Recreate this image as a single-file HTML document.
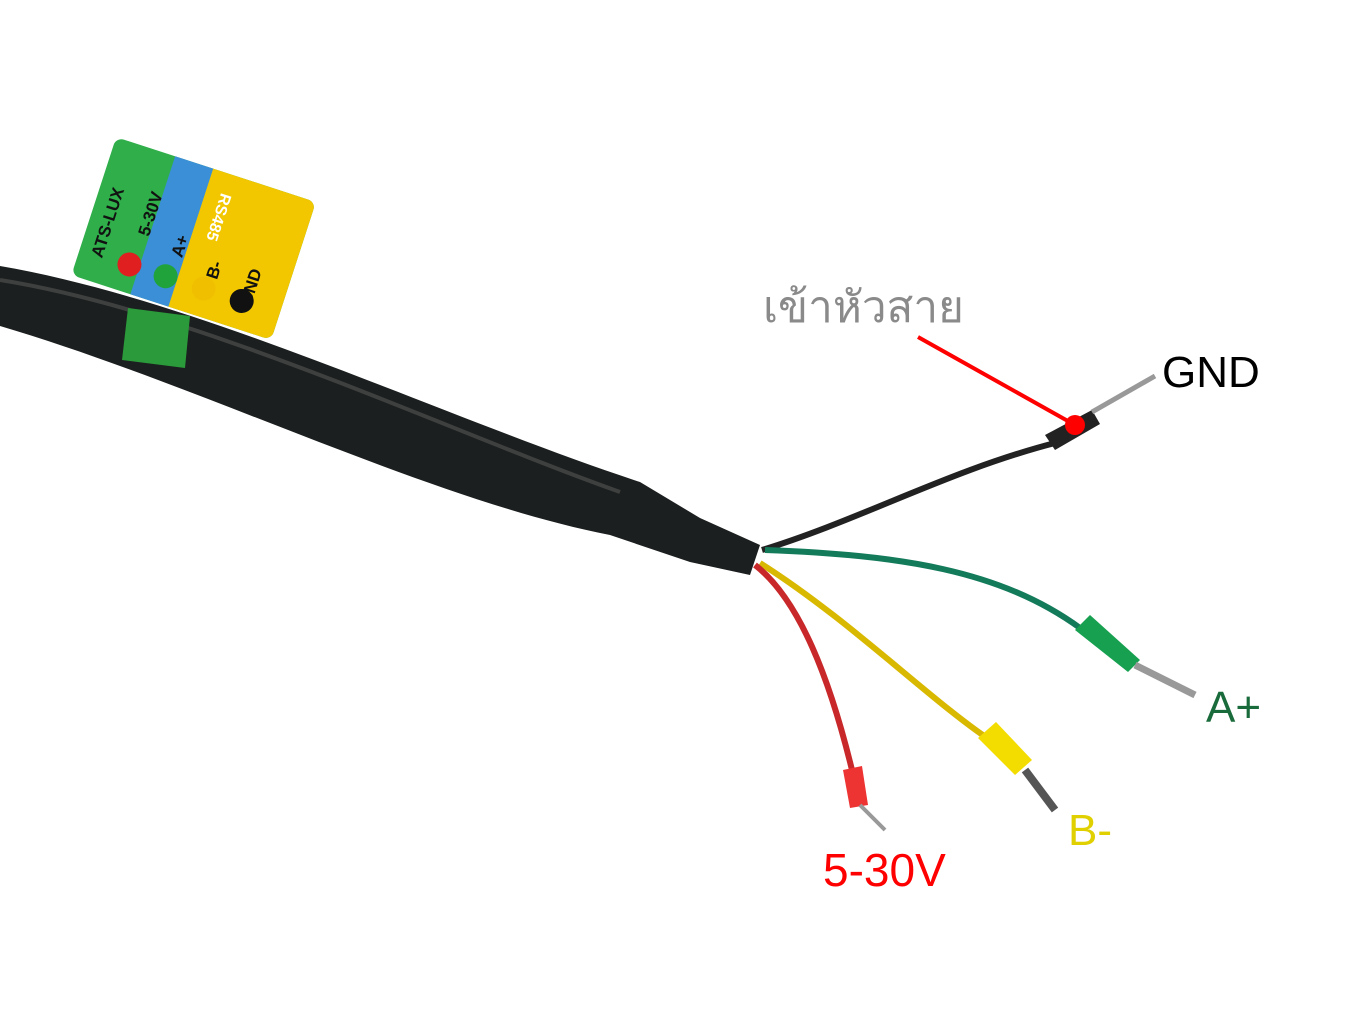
<!DOCTYPE html>
<html><head><meta charset="utf-8"><style>
html,body{margin:0;padding:0;background:#fff;}
svg{display:block}
text{font-family:"Liberation Sans","Noto Sans CJK SC",sans-serif;}
</style></head><body>
<svg width="1366" height="1025" viewBox="0 0 1366 1025" xmlns="http://www.w3.org/2000/svg">
<!-- tag -->
<g transform="rotate(18 190 240)">
 <rect x="88" y="165" width="210" height="145" rx="8" fill="#2fae4a"/>
 <rect x="180" y="165" width="118" height="145" rx="8" fill="#f2c700"/>
 <rect x="150" y="165" width="40" height="145" fill="#3b8fd6"/>
 <g font-weight="bold" font-size="17" fill="#111">
  <text transform="translate(112 285) rotate(-90)">ATS-LUX</text>
  <text transform="translate(150 250) rotate(-90)">5-30V</text>
  <text transform="translate(188 260) rotate(-90)">A+</text>
  <text transform="translate(228 270) rotate(-90)">B-</text>
  <text transform="translate(268 285) rotate(-90)">GND</text>
 </g>
 <text transform="translate(205 185) rotate(90)" font-size="16" fill="#fff" font-weight="bold">RS485</text>
 <circle cx="140" cy="282" r="12" fill="#e02020"/>
 <circle cx="178" cy="282" r="12" fill="#1fa33a"/>
 <circle cx="218" cy="282" r="12" fill="#f0c000"/>
 <circle cx="258" cy="282" r="12" fill="#111"/>
</g>
<!-- main cable -->
<path d="M0 266 C200 300 450 420 640 482 L700 518 L760 545 L750 575 L690 562 L610 535 C430 500 200 385 0 326 Z" fill="#1c1f1f"/>
<path d="M0 280 C200 312 450 432 620 492" stroke="#555" stroke-width="4" fill="none" opacity=".6"/>
<!-- cable tie -->
<path d="M128 308 L190 316 L185 368 L122 360 Z" fill="#2a9a3a"/>
<!-- wires -->
<path d="M762 550 C860 520 950 470 1055 443" stroke="#222" stroke-width="6" fill="none"/>
<path d="M1045 435 L1092 410 L1100 424 L1055 450 Z" fill="#222"/>
<path d="M1092 412 L1155 376" stroke="#999" stroke-width="5"/>
<path d="M765 550 C900 555 1000 570 1080 628" stroke="#137a5a" stroke-width="6" fill="none"/>
<path d="M1075 630 L1090 615 L1140 660 L1128 672 Z" fill="#16a050"/>
<path d="M1135 665 L1195 695" stroke="#999" stroke-width="7"/>
<path d="M760 563 C850 620 930 700 990 740" stroke="#d9b800" stroke-width="6" fill="none"/>
<path d="M978 738 L996 722 L1032 760 L1015 775 Z" fill="#f3dc00"/>
<path d="M1025 770 L1055 810" stroke="#555" stroke-width="8"/>
<path d="M755 565 C800 600 830 680 852 770" stroke="#c8282a" stroke-width="6" fill="none"/>
<path d="M843 770 L862 766 L868 805 L850 808 Z" fill="#e33"/>
<path d="M860 805 L885 830" stroke="#999" stroke-width="4"/>
<!-- pointer -->
<line x1="918" y1="337" x2="1075" y2="425" stroke="#f00" stroke-width="4"/>
<circle cx="1075" cy="425" r="10" fill="#f00"/>
<!-- labels -->
<text x="763" y="322" font-size="44" fill="#8a8a8a">เข้าหัวสาย</text>
<text x="1162" y="387" font-size="44" fill="#000" font-family="DejaVu Sans Condensed, sans-serif">GND</text>
<text x="1206" y="722" font-size="44" fill="#1a6b3c" font-family="DejaVu Sans Condensed, sans-serif">A+</text>
<text x="1068" y="845" font-size="44" fill="#e0d000" font-family="DejaVu Sans Condensed, sans-serif">B-</text>
<text x="823" y="886" font-size="46" fill="#f00" font-family="DejaVu Sans Condensed, sans-serif">5-30V</text>
</svg>
</body></html>
